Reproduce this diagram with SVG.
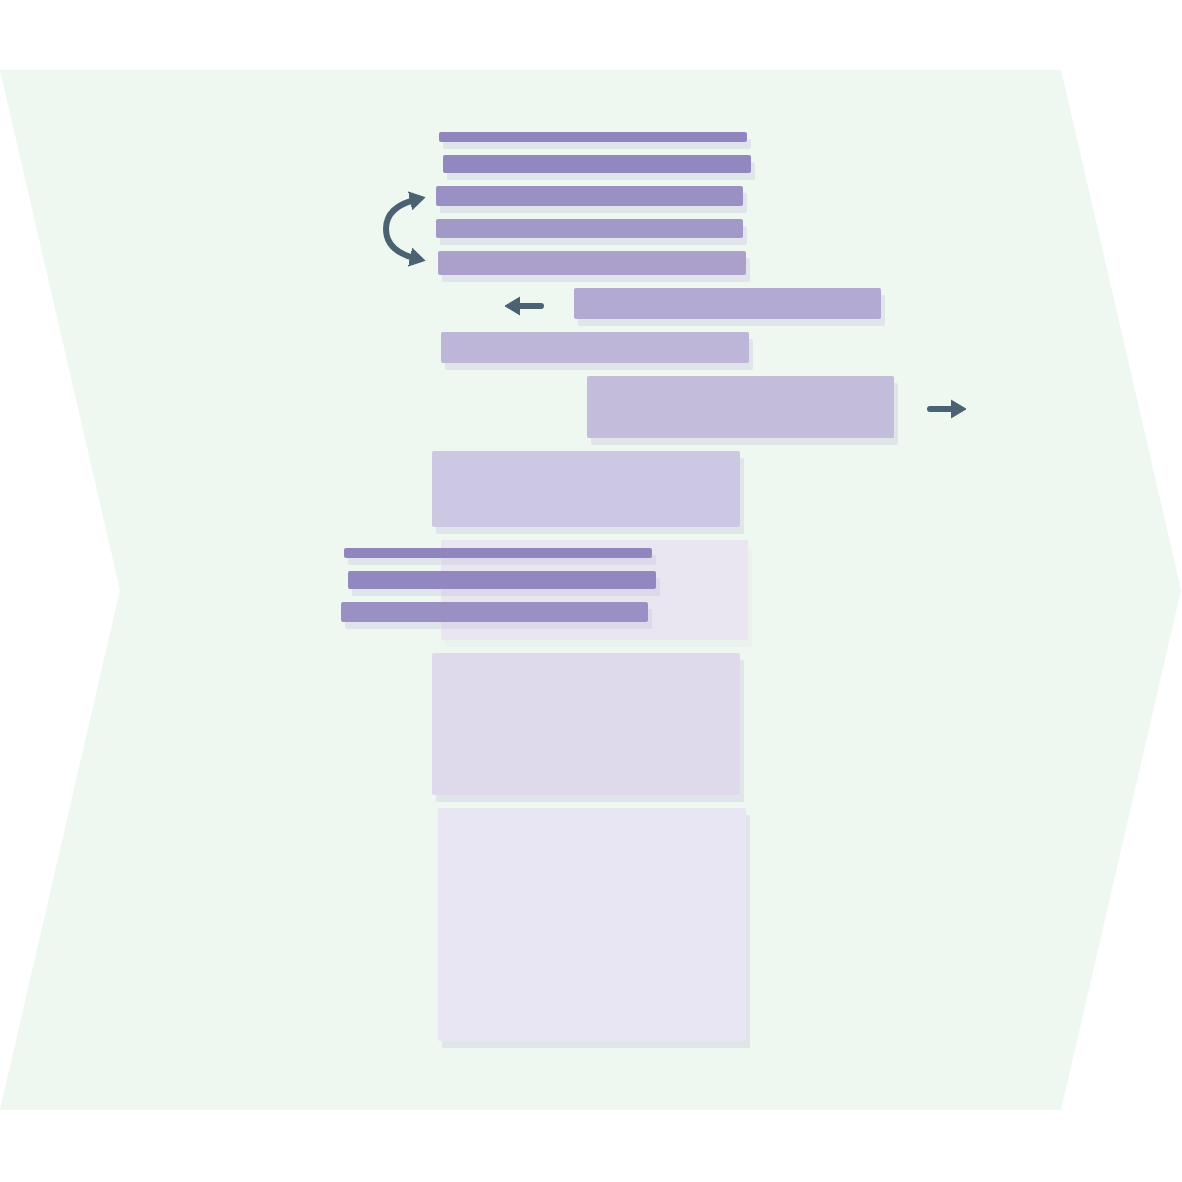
<svg xmlns="http://www.w3.org/2000/svg" width="1182" height="1182" viewBox="0 0 1182 1182">
<defs>
<style>
.sh{fill:rgb(190,190,215);fill-opacity:0.3}
.n rect{stroke:none}
.c{fill:none;stroke:#4b6272;stroke-width:6;stroke-linecap:round}
</style>
<marker id="ah" markerUnits="userSpaceOnUse" markerWidth="16" markerHeight="20" refX="8" refY="10" orient="auto-start-reverse" viewBox="0 0 16 20">
<path d="M0,1 L15,10 L0,19 z" fill="#4b6272" stroke="#4b6272" stroke-width="1" stroke-linejoin="round"/>
</marker>
</defs>
<rect width="1182" height="1182" fill="#ffffff"/>
<polygon id="bg" points="0,70 1061,70 1181,590 1061,1110 0,1110 120,590" fill="#eef7f0"/>

<g id="n1" class="n"><rect class="sh" x="443" y="139" width="308" height="10" rx="2"/><rect x="439" y="132" width="308" height="10" rx="2" fill="#9085be"/></g>
<g id="n2" class="n"><rect class="sh" x="447" y="162" width="308" height="18" rx="2"/><rect x="443" y="155" width="308" height="18" rx="2" fill="#9288bf"/></g>
<g id="n3" class="n"><rect class="sh" x="440" y="193" width="307" height="20" rx="2"/><rect x="436" y="186" width="307" height="20" rx="2" fill="#9a90c3"/></g>
<g id="n4" class="n"><rect class="sh" x="440" y="226" width="307" height="19" rx="2"/><rect x="436" y="219" width="307" height="19" rx="2" fill="#a399c9"/></g>
<g id="n5" class="n"><rect class="sh" x="442" y="258" width="308" height="24" rx="2"/><rect x="438" y="251" width="308" height="24" rx="2" fill="#aaa0cb"/></g>
<g id="n6" class="n"><rect class="sh" x="578" y="295" width="307" height="31" rx="2"/><rect x="574" y="288" width="307" height="31" rx="2" fill="#b3aad3"/></g>
<g id="n7" class="n"><rect class="sh" x="445" y="339" width="308" height="31" rx="2"/><rect x="441" y="332" width="308" height="31" rx="2" fill="#beb6d9"/></g>
<g id="n8" class="n"><rect class="sh" x="591" y="383" width="307" height="62" rx="2"/><rect x="587" y="376" width="307" height="62" rx="2" fill="#c4bcdb"/></g>
<g id="n9" class="n"><rect class="sh" x="436" y="458" width="308" height="76" rx="2"/><rect x="432" y="451" width="308" height="76" rx="2" fill="#ccc7e2"/></g>
<g id="n10" class="n"><rect class="sh" x="445" y="547" width="307" height="100" rx="2" style="fill-opacity:0.08"/><rect x="441" y="540" width="307" height="100" rx="2" fill="#e9e6f2"/></g>
<g id="n11" class="n"><rect class="sh" x="348" y="555" width="308" height="10" rx="2"/><rect x="344" y="548" width="308" height="10" rx="2" fill="#9085be"/></g>
<g id="n12" class="n"><rect class="sh" x="352" y="578" width="308" height="18" rx="2"/><rect x="348" y="571" width="308" height="18" rx="2" fill="#9288bf"/></g>
<g id="n13" class="n"><rect class="sh" x="345" y="609" width="307" height="20" rx="2"/><rect x="341" y="602" width="307" height="20" rx="2" fill="#9a90c3"/></g>
<g id="n14" class="n"><rect class="sh" x="436" y="660" width="308" height="142" rx="2"/><rect x="432" y="653" width="308" height="142" rx="2" fill="#ded9eb"/></g>
<g id="n15" class="n"><rect class="sh" x="442" y="815" width="308" height="233" rx="2"/><rect x="438" y="808" width="308" height="233" rx="2" fill="#e8e6f2"/></g>

<g id="connectors">
<path class="c" d="M418,199 C396,204 386,215 386,229 C386,243 396,254 418,259" marker-start="url(#ah)" marker-end="url(#ah)"/>
<path class="c" d="M541,306 L512,306" marker-end="url(#ah)"/>
<path class="c" d="M930,409 L959,409" marker-end="url(#ah)"/>
</g>
</svg>
